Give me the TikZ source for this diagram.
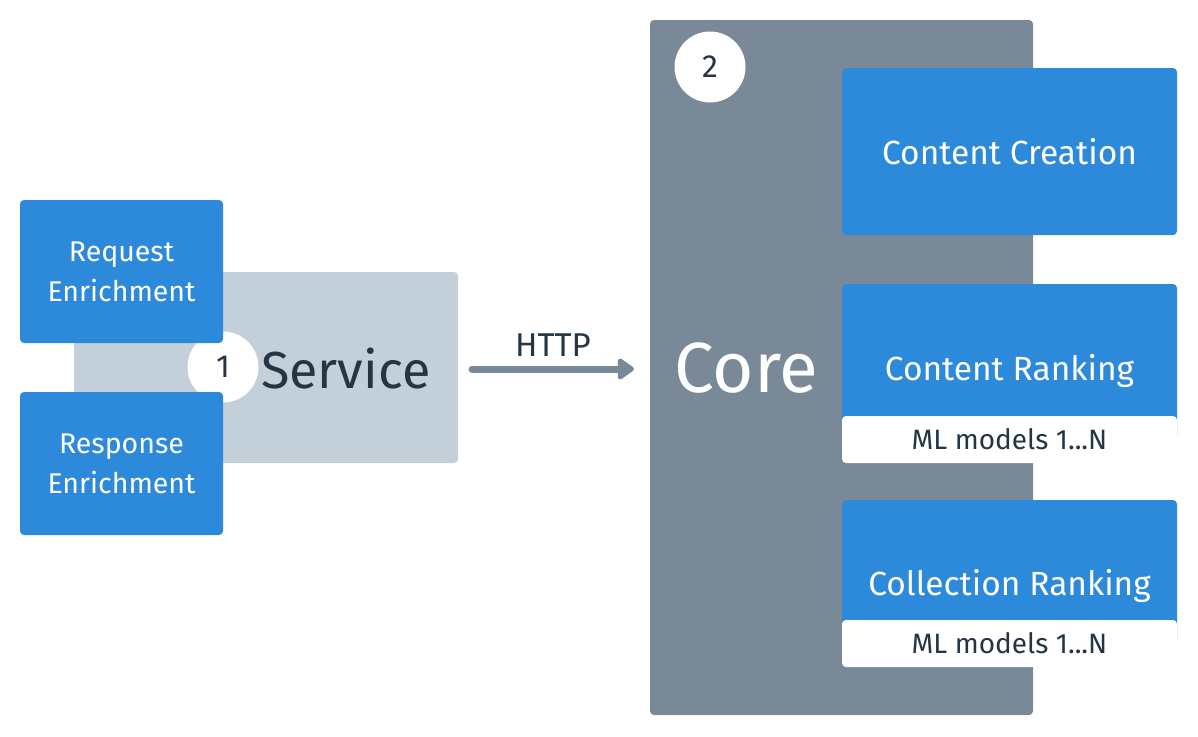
\documentclass[tikz,border=0pt]{standalone}
\usepackage{fontspec}
\setmainfont{Fira Sans}
\usetikzlibrary{arrows.meta}
\definecolor{blueb}{HTML}{2D89D9}
\definecolor{coreg}{HTML}{798998}
\definecolor{servg}{HTML}{C3D0D9}
\definecolor{darkt}{HTML}{263544}
\tikzset{
  bluebox/.style={fill=blueb, rounded corners=4pt, text=white, align=center, inner sep=0pt},
  mlbox/.style={fill=white, rounded corners=4pt, text=darkt, inner sep=0pt},
  numcirc/.style={circle, fill=white, minimum size=71pt, inner sep=0pt, text=darkt, font=\fontsize{32}{36}\selectfont},
  titlefont/.style={font=\fontsize{33.5}{38}\selectfont},
  mlfont/.style={font=\fontsize{28}{32}\selectfont},
}
\begin{document}
\begin{tikzpicture}[x=1pt,y=-1pt]
\useasboundingbox (0,0) rectangle (1198,736);
% Service
\path[fill=servg, rounded corners=4pt] (74,272) rectangle (458,463);
\node[numcirc] (c1) at (223,367) {1};
\node[bluebox, minimum width=203pt, minimum height=143pt, font=\fontsize{28.5}{40}\selectfont] (req) at (121.5,271.5) {Request\\Enrichment};
\node[bluebox, minimum width=203pt, minimum height=143pt, font=\fontsize{28.5}{40}\selectfont] (resp) at (121.5,463.5) {Response\\Enrichment};
\node[text=darkt, font=\fontsize{52}{60}\selectfont, anchor=west, inner sep=0pt] (serv) at (261,369) {Service};
\coordinate (sv) at (458,369);
% Core
\path[fill=coreg, rounded corners=4pt] (650,20) rectangle (1033,715);
\coordinate (coreW) at (650,369);
\node[text=white, font=\fontsize{71}{80}\selectfont, anchor=west, inner sep=0pt] (core) at (674,368) {Core};
\node[numcirc] (c2) at (710,67) {2};
% arrow
\draw[coreg, line width=7pt, line cap=round, -{Triangle[length=18pt,width=24pt,round]}] ([xshift=14pt]sv) -- ([xshift=-16pt]coreW) node[midway, above=6pt, text=darkt, font=\fontsize{33}{36}\selectfont] (http) {HTTP};
% right boxes
\node[bluebox, minimum width=335pt, minimum height=167pt, titlefont] (cc) at (1009.5,151.5) {Content Creation};
\path[fill=blueb, rounded corners=4pt] (842,284) rectangle (1177,440);
\node[text=white, titlefont] (cr) at (1009.5,371) {Content Ranking};
\node[mlbox, minimum width=335pt, minimum height=47pt, mlfont] (ml1) at (1009.5,439.5) {ML models 1...N};
\path[fill=blueb, rounded corners=4pt] (842,500) rectangle (1177,645);
\node[text=white, titlefont] (colr) at (1009.5,586) {Collection Ranking};
\node[mlbox, minimum width=335pt, minimum height=47pt, mlfont] (ml2) at (1009.5,643.5) {ML models 1...N};
\end{tikzpicture}
\end{document}
